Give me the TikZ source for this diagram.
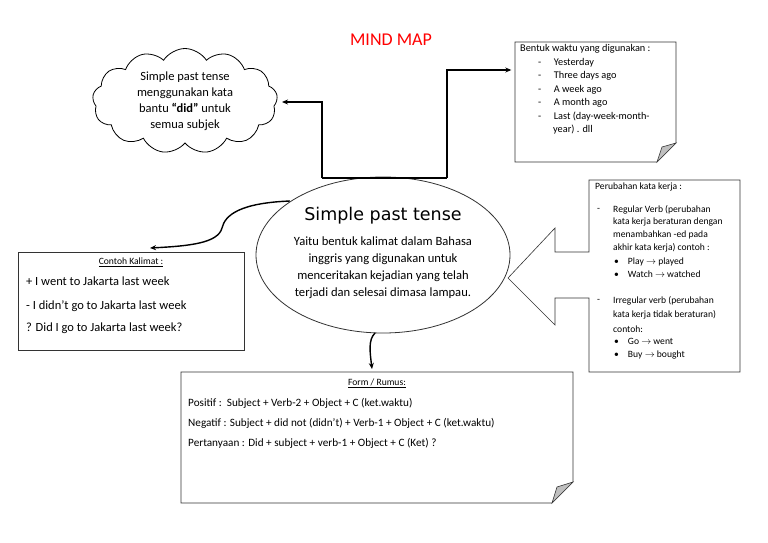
\documentclass[tikz,border=0pt]{standalone}
\usepackage{fontspec}
\setmainfont{Carlito}
\newfontfamily\dvs{DejaVu Sans}
\usetikzlibrary{shapes.symbols,arrows.meta}
\begin{document}
\begin{tikzpicture}[x=1pt,y=-1pt,
  ln/.style={draw=black!80,line width=0.6pt},
  conn/.style={black,line width=1.6pt,-{Stealth[length=6pt,width=5pt]}},
  sm/.style={font=\fontsize{10.3}{13.4}\selectfont},
  txt/.style={align=left,anchor=north west,inner sep=0pt}]
\useasboundingbox[fill=white] (0,0) rectangle (768,543);
\node[text=red,font=\fontsize{18}{20}\selectfont] (title) at (391,40) {MIND MAP};
% cloud
\node[cloud,draw,line width=0.8pt,cloud puffs=13,cloud puff arc=115,aspect=1.8,minimum width=185pt,minimum height=105pt,
  font=\fontsize{12.5}{16}\selectfont,align=center,inner sep=0pt] (cloud) at (185,101)
  {Simple past tense\\menggunakan kata\\bantu \textbf{``did''} untuk\\semua subjek};
% ellipse
\draw[ln,line width=0.8pt] (383,255) ellipse (127 and 78);
\node[font=\dvs\fontsize{17.5}{20}\selectfont] (etitle) at (383,216) {Simple past tense};
\node[font=\fontsize{12.6}{17}\selectfont,align=center] (ebody) at (383,268)
 {Yaitu bentuk kalimat dalam Bahasa\\inggris yang digunakan untuk\\menceritakan kejadian yang telah\\terjadi dan selesai dimasa lampau.};
\coordinate (etop) at (447,178);
\coordinate (el) at (322,178);
\coordinate (eb) at (375,333);
\coordinate (eleft) at (290,201);
% top-right note
\draw[ln] (515,42) -- (676,42) -- (676,143) -- (657,162) -- (515,162) -- cycle;
\draw[ln,fill=black!25] (676,143) -- (657,162) -- (662,147) -- cycle;
\node[txt,sm] (bw) at (520,44) {Bentuk waktu yang digunakan :};
\foreach \t [count=\i] in {Yesterday,Three days ago,A week ago,A month ago,Last (day-week-month-}
  \node[txt,sm] at (538,58+13.4*\i-13.4) {-\hspace{12.5pt}\t};
\node[txt,sm] at (553,125) {year) . dll};
\node[inner sep=0pt] (note1) at (512,70) {};
% connectors
\draw[black,line width=1.6pt] (el) -- (etop);
\draw[conn] (el) -- (322,102) -- (282,102);
\draw[conn] (etop) -- (447,70) -- (note1);
% right box with callouts
\draw[ln] (589,252) -- (589,180) -- (740,180) -- (740,372) -- (589,372) -- (589,298)
  -- (555,298) -- (555,325) -- (508,278) -- (555,228) -- (555,252) -- cycle;
\begin{scope}[font=\fontsize{9.6}{12.6}\selectfont]
\node[txt] (pk) at (595,183) {Perubahan kata kerja :};
\node[txt] at (597,205) {\vphantom{R}-};
\node[txt] (rv) at (613,205) {Regular Verb (perubahan\\kata kerja beraturan dengan\\menambahkan -ed pada\\akhir kata kerja) contoh :};
\node[txt] at (614,258) {\textbullet\hspace{9pt}Play $\rightarrow$ played\\\textbullet\hspace{9pt}Watch $\rightarrow$ watched};
\node[txt] at (597,296) {\vphantom{I}-};
\node[txt,font=\fontsize{9.6}{14.5}\selectfont] (iv) at (613,296) {Irregular verb (perubahan\\kata kerja tidak beraturan)\\contoh:};
\node[txt] at (614,338) {\textbullet\hspace{9pt}Go $\rightarrow$ went\\\textbullet\hspace{9pt}Buy $\rightarrow$ bought};
\end{scope}
% contoh box
\draw[ln] (18,252) rectangle (244,350);
\node[font=\fontsize{9.6}{10}\selectfont] (ck) at (131,262) {\underline{Contoh Kalimat :}};
\node[txt,font=\fontsize{12.5}{13}\selectfont] (c1) at (26,277) {+ I went to Jakarta last week};
\node[txt,font=\fontsize{12.5}{13}\selectfont] (c2) at (26,300) {- I didn't go to Jakarta last week};
\node[txt,font=\fontsize{12.5}{13}\selectfont] (c3) at (26,323) {? Did I go to Jakarta last week?};
\coordinate (ctop) at (150,248);
\draw[conn,line width=1.4pt] (eleft) .. controls (240,203) and (225,215) .. (222,228) .. controls (218,243) and (190,246) .. (ctop);
% form box
\draw[ln] (181,372) -- (573,372) -- (573,482) -- (552,503) -- (181,503) -- cycle;
\draw[ln,fill=black!25] (573,482) -- (552,503) -- (557,487) -- cycle;
\node[font=\fontsize{9.6}{10}\selectfont] (fr) at (377,383) {\underline{Form / Rumus:}};
\node[txt,font=\fontsize{11.2}{12}\selectfont] (f1) at (188,398) {Positif :\ \ Subject + Verb-2 + Object + C (ket.waktu)};
\node[txt,font=\fontsize{11.2}{12}\selectfont] (f2) at (188,418) {Negatif : Subject + did not (didn't) + Verb-1 + Object + C (ket.waktu)};
\node[txt,font=\fontsize{11.2}{12}\selectfont] (f3) at (188,438) {Pertanyaan : Did + subject + verb-1 + Object + C (Ket) ?};
\coordinate (ftop) at (372,369);
\draw[conn,line width=1.4pt] (eb) .. controls (368,340) and (370,352) .. (ftop);
\end{tikzpicture}
\end{document}
